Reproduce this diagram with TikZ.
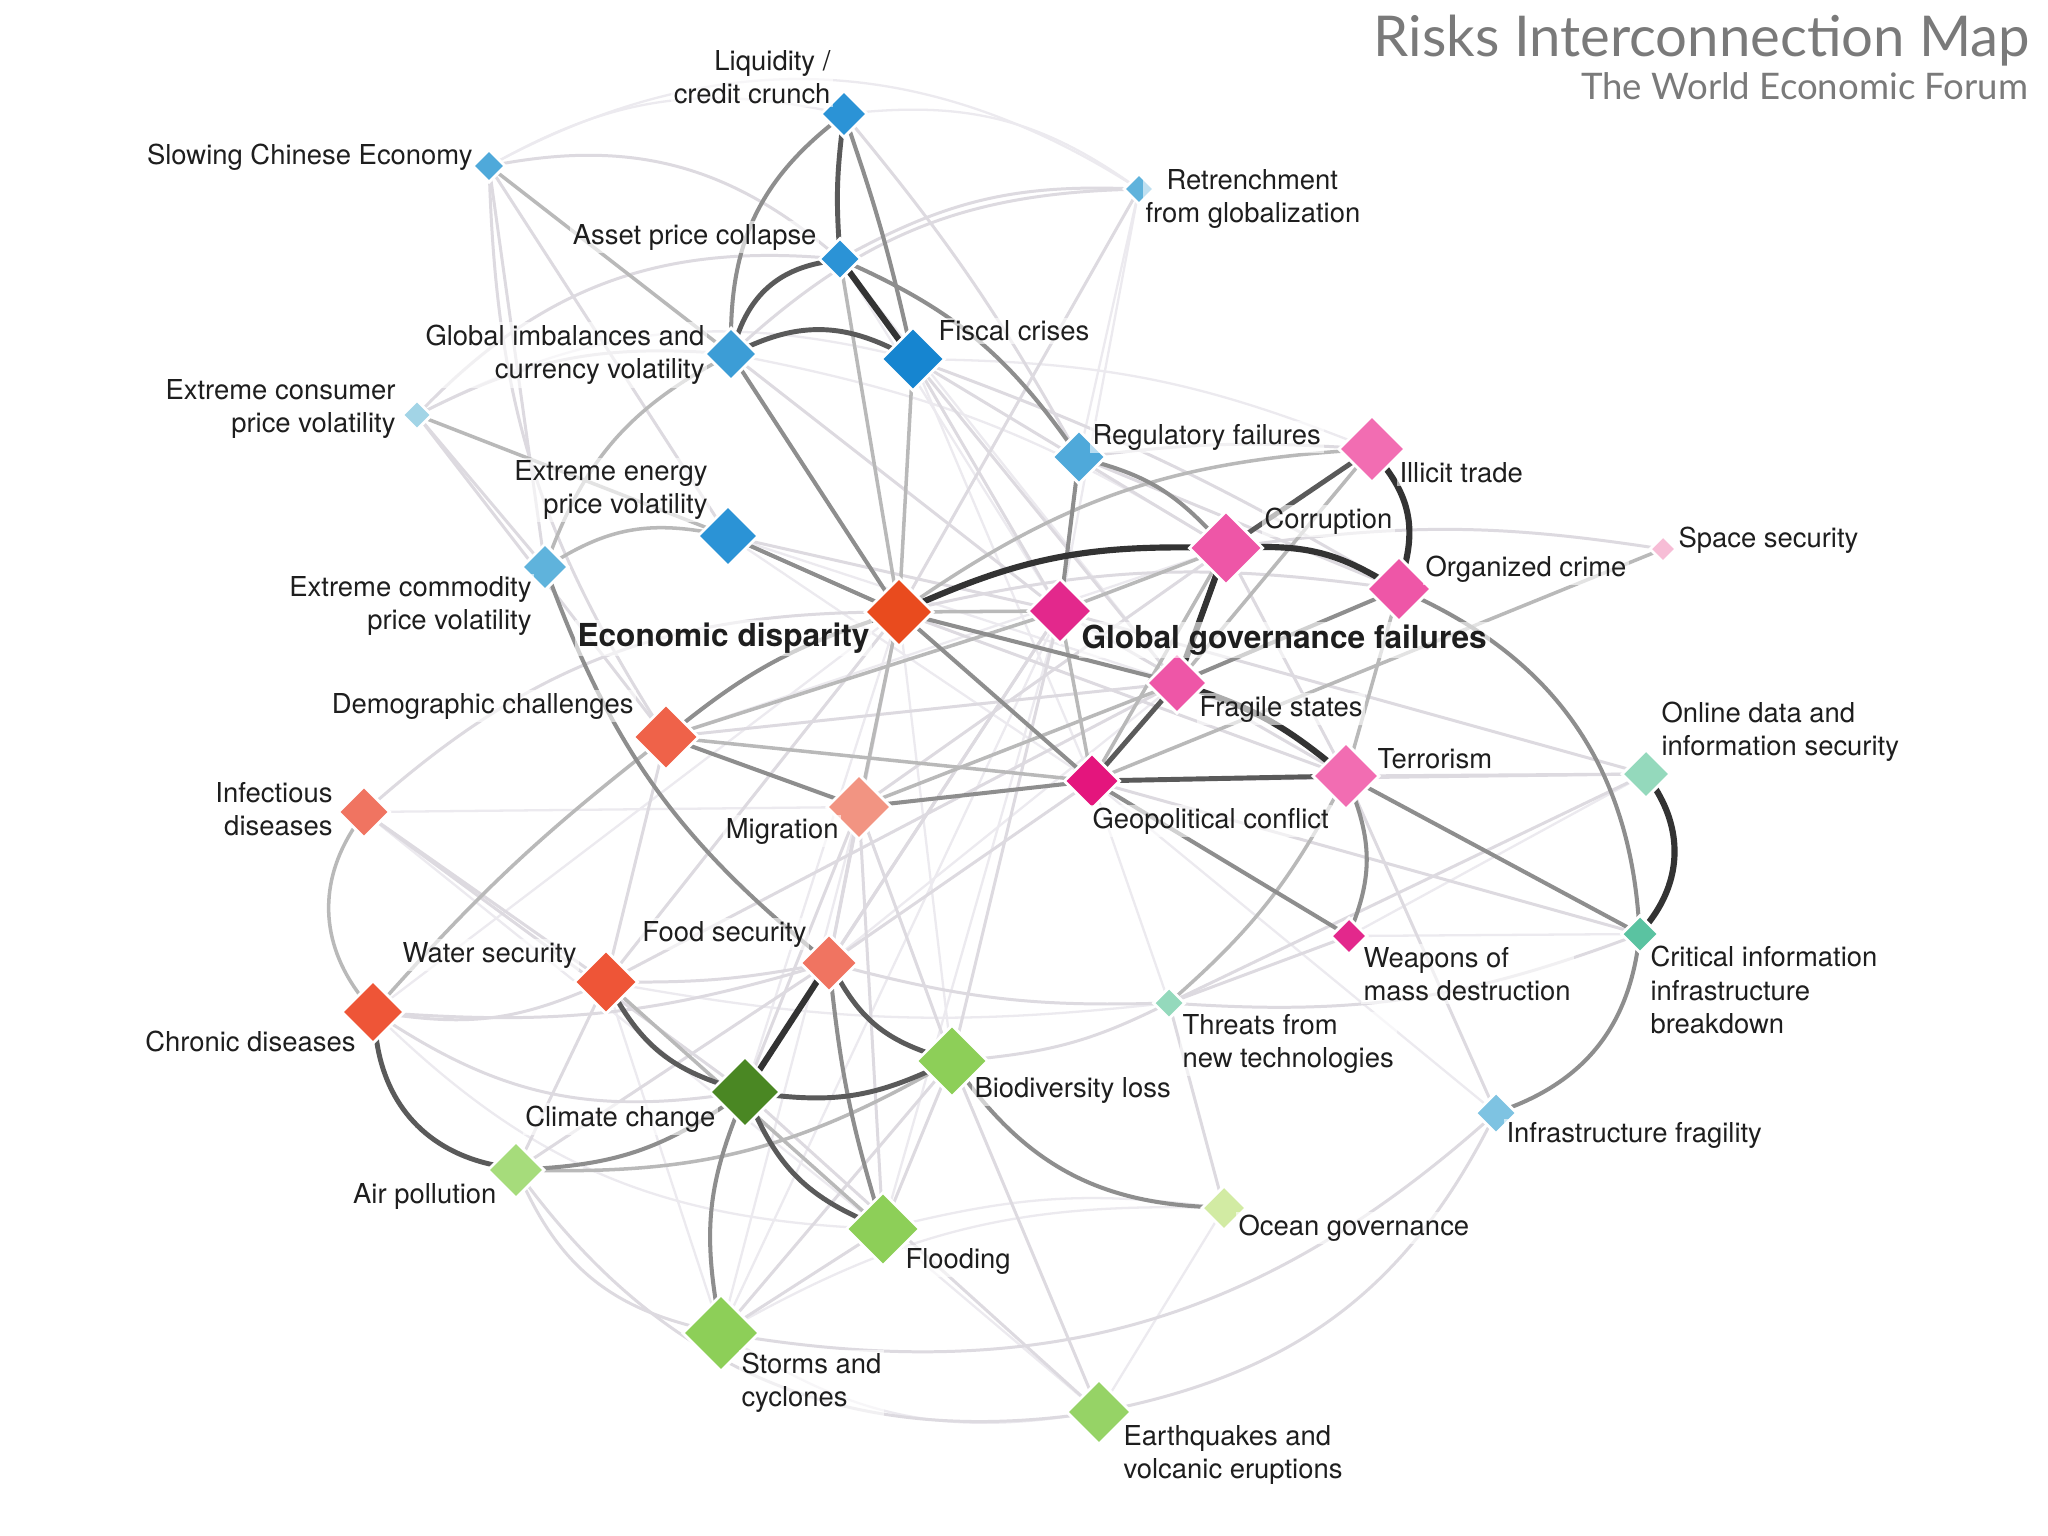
\documentclass[tikz,border=0pt]{standalone}
\usepackage{fontspec}
\setmainfont{TeX Gyre Heros}
\newfontfamily\titlefont{Lato}
\usetikzlibrary{shapes.geometric}
\pgfdeclarelayer{bg}
\pgfdeclarelayer{edges}
\pgfsetlayers{bg,edges,main}
\newcommand\labfont{\fontsize{7.8}{9.4}\selectfont}
\newcommand\boldlabfont{\fontsize{9}{11}\selectfont\bfseries}
% edge colours
\definecolor{ea}{HTML}{333333}
\definecolor{eb}{HTML}{5A5A5A}
\definecolor{ec}{HTML}{8E8E8E}
\definecolor{ed}{HTML}{B9B9B9}
\definecolor{ee}{HTML}{DDDAE0}
\definecolor{ef}{HTML}{ECEAEF}
% node colours
\definecolor{bA}{HTML}{1685D0}
\definecolor{bB}{HTML}{2B93D6}
\definecolor{bC}{HTML}{3C9DD6}
\definecolor{bD}{HTML}{4FA9DA}
\definecolor{bE}{HTML}{5FB3DC}
\definecolor{bF}{HTML}{A2D4E6}
\definecolor{bG}{HTML}{7EC3E2}
\definecolor{pA}{HTML}{E4157D}
\definecolor{pB}{HTML}{E3288C}
\definecolor{pC}{HTML}{EE56A7}
\definecolor{pD}{HTML}{F26DB2}
\definecolor{pE}{HTML}{F7BDD6}
\definecolor{rA}{HTML}{E94B1E}
\definecolor{rB}{HTML}{EF6249}
\definecolor{rC}{HTML}{EE5537}
\definecolor{rD}{HTML}{F07461}
\definecolor{rE}{HTML}{F29482}
\definecolor{gA}{HTML}{4A8723}
\definecolor{gB}{HTML}{8DCF58}
\definecolor{gC}{HTML}{96D366}
\definecolor{gD}{HTML}{A6DC7B}
\definecolor{gE}{HTML}{D2EBA3}
\definecolor{tA}{HTML}{94D9BC}
\definecolor{tB}{HTML}{5AC3A1}
\definecolor{labc}{HTML}{1E1E1E}
\definecolor{titlec}{HTML}{7A7A7A}
\begin{document}
\begin{tikzpicture}[x=0.01cm,y=-0.01cm,
  k1/.style={draw=ea, line width=1.75pt, line cap=round},
  k2/.style={draw=eb, line width=1.4pt, line cap=round},
  k3/.style={draw=ec, line width=1.15pt, line cap=round},
  k4/.style={draw=ed, line width=1pt, line cap=round},
  k5/.style={draw=ee, line width=0.85pt, line cap=round},
  k6/.style={draw=ef, line width=0.65pt, line cap=round},
  bl/.style={bend left=#1},
  br/.style={bend right=#1},
  risk/.style={diamond, aspect=1, inner sep=0pt, outer sep=0pt, draw=white, line width=0.8pt, fill=#1},
  dsz/.style={minimum size=#1*0.02cm},
  lab/.style={font=\labfont, text=labc, inner sep=0.8pt, fill=white, fill opacity=0.6, text opacity=1},
  blab/.style={font=\boldlabfont, text=labc, inner sep=0.8pt, fill=white, fill opacity=0.6, text opacity=1}
]
\useasboundingbox (0,0) rectangle (2048,1536);
\begin{pgfonlayer}{bg}
\fill[white] (0,0) rectangle (2048,1536);
\end{pgfonlayer}

% ---------- nodes ----------
\node[risk=bB, dsz=23]   (liq)     at (844,114) {};
\node[risk=bD, dsz=16]   (chn)     at (489,166) {};
\node[risk=bE, dsz=15]   (ret)     at (1139,189) {};
\node[risk=bB, dsz=20.5] (asset)   at (840,259) {};
\node[risk=bA, dsz=31.5] (fisc)    at (913,359) {};
\node[risk=bC, dsz=26]   (glob)    at (731,354) {};
\node[risk=bF, dsz=14.5] (cons)    at (417,415) {};
\node[risk=bD, dsz=26.5] (reg)     at (1079,457) {};
\node[risk=bB, dsz=30]   (ene)     at (728,536) {};
\node[risk=bE, dsz=23]   (com)     at (545,567) {};
\node[risk=pD, dsz=33]   (illicit) at (1372,449) {};
\node[risk=pC, dsz=36.5] (corr)    at (1226,548) {};
\node[risk=pE, dsz=13]   (space)   at (1663,549) {};
\node[risk=pC, dsz=32]   (org)     at (1399,589) {};
\node[risk=rA, dsz=34]   (econ)    at (899,612) {};
\node[risk=pB, dsz=32]   (ggov)    at (1060,611) {};
\node[risk=pC, dsz=30]   (frag)    at (1177,683) {};
\node[risk=rB, dsz=32.5] (demo)    at (666,737) {};
\node[risk=rE, dsz=32]   (migr)    at (859,807) {};
\node[risk=pA, dsz=27.5] (geo)     at (1092,781) {};
\node[risk=pD, dsz=33]   (terr)    at (1346,776) {};
\node[risk=tA, dsz=24]   (online)  at (1646,774) {};
\node[risk=rD, dsz=25.5] (infect)  at (364,812) {};
\node[risk=pB, dsz=18]   (wmd)     at (1349,936) {};
\node[risk=tB, dsz=18.5] (crit)    at (1640,934) {};
\node[risk=rC, dsz=31.5] (water)   at (606,982) {};
\node[risk=rD, dsz=28.5] (food)    at (829,963) {};
\node[risk=rC, dsz=31]   (chron)   at (373,1012) {};
\node[risk=tA, dsz=15.5] (threat)  at (1169,1003) {};
\node[risk=gB, dsz=35.5] (bio)     at (952,1061) {};
\node[risk=gA, dsz=35]   (climate) at (745,1092) {};
\node[risk=bG, dsz=20.5] (infra)   at (1496,1113) {};
\node[risk=gD, dsz=28]   (air)     at (516,1170) {};
\node[risk=gE, dsz=22]   (ocean)   at (1224,1208) {};
\node[risk=gB, dsz=36.5] (flood)   at (883,1229) {};
\node[risk=gB, dsz=38]   (storm)   at (721,1333) {};
\node[risk=gC, dsz=32]   (quake)   at (1099,1412) {};

% ---------- edges ----------
\begin{pgfonlayer}{edges}
% faint
\draw[k6] (chn) to[bl=20] (liq);
\draw[k6] (chn) to[bl=30] (ret);
\draw[k6] (liq) to[bl=20] (ret);
\draw[k6] (cons) to[bl=20] (fisc);
\draw[k6] (glob) to[bl=10] (corr);
\draw[k6] (asset) -- (ggov);
\draw[k6] (asset) -- (frag);
\draw[k6] (ene) -- (geo);
\draw[k6] (ene) -- (frag);
\draw[k6] (econ) -- (chron);
\draw[k6] (fisc) to[bl=10] (illicit);
\draw[k6] (fisc) -- (geo);
\draw[k6] (ret) -- (reg);
\draw[k6] (ret) -- (ggov);
\draw[k6] (corr) -- (demo);
\draw[k6] (ggov) -- (flood);
\draw[k6] (ggov) -- (storm);
\draw[k6] (geo) -- (threat);
\draw[k6] (crit) -- (wmd);
\draw[k6] (online) -- (wmd);
\draw[k6] (infra) -- (geo);
\draw[k6] (threat) to[bl=8] (water);
\draw[k6] (bio) -- (econ);
\draw[k6] (bio) -- (migr);
\draw[k6] (storm) to[br=20] (quake);
\draw[k6] (quake) -- (flood);
\draw[k6] (quake) -- (ocean);
\draw[k6] (chron) to[br=20] (flood);
\draw[k6] (infect) -- (flood);
\draw[k6] (infect) -- (migr);
\draw[k6] (water) -- (econ);
\draw[k6] (food) -- (frag);
\draw[k6] (climate) -- (econ);
\draw[k6] (ocean) to[br=15] (storm);
\draw[k6] (ocean) to[br=10] (flood);
\draw[k6] (storm) -- (migr);
\draw[k6] (storm) -- (water);
% light
\draw[k5] (chn) to[bl=25] (asset);
\draw[k5] (chn) -- (com);
\draw[k5] (chn) -- (ene);
\draw[k5] (chn) to[br=15] (demo);
\draw[k5] (cons) to[bl=15] (glob);
\draw[k5] (cons) to[bl=25] (asset);
\draw[k5] (cons) -- (com);
\draw[k5] (cons) -- (demo);
\draw[k5] (liq) to[bl=5] (reg);
\draw[k5] (ret) to[br=20] (glob);
\draw[k5] (ret) to[br=15] (asset);
\draw[k5] (ret) -- (econ);
\draw[k5] (fisc) -- (corr);
\draw[k5] (fisc) -- (ggov);
\draw[k5] (fisc) to[bl=5] (org);
\draw[k5] (fisc) -- (frag);
\draw[k5] (glob) -- (ggov);
\draw[k5] (ene) -- (ggov);
\draw[k5] (econ) to[bl=10] (org);
\draw[k5] (econ) -- (terr);
\draw[k5] (econ) -- (water);
\draw[k5] (econ) -- (food);
\draw[k5] (reg) to[bl=5] (illicit);
\draw[k5] (reg) -- (org);
\draw[k5] (space) to[br=8] (corr);
\draw[k5] (corr) -- (terr);
\draw[k5] (corr) -- (migr);
\draw[k5] (ggov) -- (terr);
\draw[k5] (ggov) -- (online);
\draw[k5] (ggov) -- (bio);
\draw[k5] (frag) -- (water);
\draw[k5] (frag) -- (demo);
\draw[k5] (geo) -- (online);
\draw[k5] (geo) -- (crit);
\draw[k5] (geo) -- (food);
\draw[k5] (terr) -- (online);
\draw[k5] (terr) -- (infra);
\draw[k5] (online) -- (threat);
\draw[k5] (threat) to[br=12] (crit);
\draw[k5] (wmd) -- (threat);
\draw[k5] (infra) to[bl=25] (quake);
\draw[k5] (infra) to[bl=25] (storm);
\draw[k5] (threat) -- (ocean);
\draw[k5] (threat) to[bl=8] (food);
\draw[k5] (threat) to[bl=10] (bio);
\draw[k5] (bio) -- (flood);
\draw[k5] (flood) -- (migr);
\draw[k5] (storm) -- (flood);
\draw[k5] (storm) to[bl=25] (air);
\draw[k5] (storm) -- (bio);
\draw[k5] (air) to[br=30] (quake);
\draw[k5] (quake) -- (bio);
\draw[k5] (air) -- (water);
\draw[k5] (air) -- (food);
\draw[k5] (chron) to[br=15] (water);
\draw[k5] (chron) to[br=10] (food);
\draw[k5] (chron) to[br=20] (climate);
\draw[k5] (infect) -- (water);
\draw[k5] (infect) -- (climate);
\draw[k5] (infect) to[bl=20] (econ);
\draw[k5] (water) to[br=5] (food);
\draw[k5] (water) -- (demo);
\draw[k5] (food) -- (migr);
\draw[k5] (food) -- (ggov);
\draw[k5] (migr) -- (climate);
\draw[k5] (migr) -- (bio);
\draw[k5] (climate) -- (ggov);
\draw[k5] (climate) -- (quake);
% light-medium
\draw[k4] (com) to[bl=20] (glob);
\draw[k4] (water) -- (flood);
\draw[k4] (migr) -- (frag);
\draw[k4] (econ) -- (migr);
\draw[k4] (econ) -- (ggov);
\draw[k4] (ggov) -- (corr);
\draw[k4] (ggov) -- (geo);
\draw[k4] (space) -- (geo);
\draw[k4] (threat) to[br=10] (terr);
\draw[k4] (org) -- (terr);
\draw[k4] (demo) to[br=5] (chron);
\draw[k4] (infect) to[br=35] (chron);
\draw[k4] (illicit) -- (frag);
\draw[k4] (illicit) to[br=15] (econ);
\draw[k4] (cons) -- (ene);
\draw[k4] (ene) to[br=20] (com);
\draw[k4] (econ) -- (fisc);
\draw[k4] (econ) -- (asset);
\draw[k4] (air) to[br=15] (bio);
\draw[k4] (demo) -- (ggov);
\draw[k4] (demo) -- (geo);
\draw[k4] (corr) -- (geo);
\draw[k4] (chn) -- (glob);
% medium
\draw[k3] (food) to[br=5] (flood);
\draw[k3] (liq) to[bl=3] (fisc);
\draw[k3] (liq) to[br=25] (glob);
\draw[k3] (asset) to[bl=15] (reg);
\draw[k3] (glob) -- (econ);
\draw[k3] (ene) -- (econ);
\draw[k3] (reg) -- (ggov);
\draw[k3] (reg) to[bl=15] (corr);
\draw[k3] (econ) -- (frag);
\draw[k3] (econ) -- (geo);
\draw[k3] (demo) to[bl=10] (econ);
\draw[k3] (demo) -- (migr);
\draw[k3] (migr) -- (geo);
\draw[k3] (terr) to[bl=20] (wmd);
\draw[k3] (terr) -- (crit);
\draw[k3] (org) to[bl=30] (crit);
\draw[k3] (org) -- (frag);
\draw[k3] (crit) to[bl=30] (infra);
\draw[k3] (bio) to[br=25] (ocean);
\draw[k3] (air) to[br=15] (climate);
\draw[k3] (climate) to[br=15] (storm);
\draw[k3] (com) to[br=15] (food);
\draw[k3] (geo) -- (wmd);
% dark
\draw[k2] (liq) to[br=5] (asset);
\draw[k2] (asset) to[br=30] (glob);
\draw[k2] (glob) to[bl=25] (fisc);
\draw[k2] (illicit) -- (corr);
\draw[k2] (frag) -- (geo);
\draw[k2] (geo) -- (terr);
\draw[k2] (water) to[br=20] (climate);
\draw[k2] (food) to[br=20] (bio);
\draw[k2] (chron) to[br=35] (air);
\draw[k2] (climate) to[br=15] (bio);
\draw[k2] (climate) to[br=20] (flood);
% darkest
\draw[k1] (asset) -- (fisc);
\draw[k1] (econ) to[bl=12] (corr);
\draw[k1] (corr) to[bl=15] (org);
\draw[k1] (illicit) to[bl=25] (org);
\draw[k1] (frag) to[bl=10] (terr);
\draw[k1] (online) to[bl=35] (crit);
\draw[k1] (food) -- (climate);
\draw[k1] (corr) -- (frag);
\end{pgfonlayer}

% ---------- labels ----------
\node[lab, anchor=east, align=right] (liq-l) at (834,77) {Liquidity /\\credit crunch};
\node[lab, anchor=east] (chn-l) at (476,157) {Slowing Chinese Economy};
\node[lab, anchor=west, align=left] (ret-l) at (1142,199) {\hspace*{6pt}Retrenchment\\from globalization};
\node[lab, anchor=east] (asset-l) at (820,237) {Asset price collapse};
\node[lab, anchor=west] (fisc-l) at (935,331) {Fiscal crises};
\node[lab, anchor=east, align=right] (glob-l) at (708,355) {Global imbalances and\\currency volatility};
\node[lab, anchor=east, align=right] (cons-l) at (399,409) {Extreme consumer\\price volatility};
\node[lab, anchor=west] (reg-l) at (1089,437) {Regulatory failures};
\node[lab, anchor=east, align=right] (ene-l) at (711,490) {Extreme energy\\price volatility};
\node[lab, anchor=east, align=right] (com-l) at (535,606) {Extreme commodity\\price volatility};
\node[lab, anchor=west] (illicit-l) at (1396,473) {Illicit trade};
\node[lab, anchor=west] (corr-l) at (1261,521) {Corruption};
\node[lab, anchor=west] (space-l) at (1675,540) {Space security};
\node[lab, anchor=west] (org-l) at (1422,569) {Organized crime};
\node[blab, anchor=east] (econ-l) at (873,638) {Economic disparity};
\node[blab, anchor=west] (ggov-l) at (1078,640) {Global governance failures};
\node[lab, anchor=west] (frag-l) at (1196,709) {Fragile states};
\node[lab, anchor=east] (demo-l) at (637,706) {Demographic challenges};
\node[lab, anchor=east] (migr-l) at (842,831) {Migration};
\node[lab, anchor=west] (geo-l) at (1089,821) {Geopolitical conflict};
\node[lab, anchor=west] (terr-l) at (1374,759) {Terrorism};
\node[lab, anchor=west, align=left] (online-l) at (1658,732) {Online data and\\information security};
\node[lab, anchor=east, align=right] (infect-l) at (336,809) {Infectious\\diseases};
\node[lab, anchor=west, align=left] (wmd-l) at (1360,974) {Weapons of\\mass destruction};
\node[lab, anchor=west, align=left] (crit-l) at (1647,990) {Critical information\\infrastructure\\breakdown};
\node[lab, anchor=east] (water-l) at (580,955) {Water security};
\node[lab, anchor=east] (food-l) at (810,934) {Food security};
\node[lab, anchor=east] (chron-l) at (359,1041) {Chronic diseases};
\node[lab, anchor=west, align=left] (threat-l) at (1179,1044) {Threats from\\new technologies};
\node[lab, anchor=west] (bio-l) at (971,1090) {Biodiversity loss};
\node[lab, anchor=east] (climate-l) at (719,1119) {Climate change};
\node[lab, anchor=west] (infra-l) at (1503,1135) {Infrastructure fragility};
\node[lab, anchor=east] (air-l) at (500,1196) {Air pollution};
\node[lab, anchor=west] (ocean-l) at (1235,1228) {Ocean governance};
\node[lab, anchor=west] (flood-l) at (902,1261) {Flooding};
\node[lab, anchor=west, align=left] (storm-l) at (738,1383) {Storms and\\cyclones};
\node[lab, anchor=west, align=left] (quake-l) at (1120,1455) {Earthquakes and\\volcanic eruptions};

% ---------- title ----------
\node[anchor=base east, inner sep=0pt, text=titlec, font=\titlefont\fontsize{16}{18}\selectfont] (title) at (2031,56) {Risks Interconnection Map};
\node[anchor=base east, inner sep=0pt, text=titlec, font=\titlefont\fontsize{10.4}{12}\selectfont] (subtitle) at (2029,99) {The World Economic Forum};
\end{tikzpicture}
\end{document}
